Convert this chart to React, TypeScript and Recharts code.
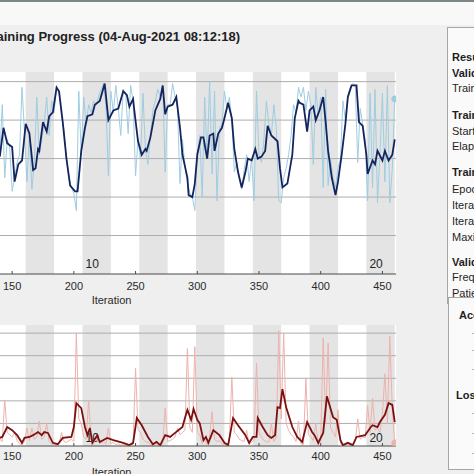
import React from "react";
import {
  LineChart,
  Line,
  XAxis,
  YAxis,
  CartesianGrid,
  ReferenceArea,
  ReferenceLine,
} from "recharts";

// iteration grid shared by both panels
const ITER_START = 140;
const ITER_STEP = 2;
const MAX_ITER = 461;
const ITERS_PER_EPOCH = 23;
const SHADED_EPOCHS = [2, 4, 6, 8, 10, 12, 14, 16, 18, 20];
const LABELED_EPOCHS = [10, 20];
const ITER_TICKS = [0, 50, 100, 150, 200, 250, 300, 350, 400, 450];
const ACC_TICKS = [0, 20, 40, 60, 80, 100];
const LOSS_TICKS = [0, 0.5, 1, 1.5, 2, 2.5];

// per-iteration accuracy (%), every 2nd iteration from 140
const ACC_RAW = [
  62, 88, 50, 70, 66, 43, 50, 58, 62, 97,
  74, 48, 72, 44, 58, 92, 62, 70, 78, 92,
  72, 90, 84, 97, 94, 82, 75, 60, 50, 45,
  42, 33, 95, 62, 92, 78, 88, 84, 90, 88,
  92, 96, 99, 88, 51, 95, 84, 98, 86, 72,
  96, 94, 73, 98, 90, 51, 70, 60, 94, 64,
  57, 72, 85, 90, 96, 92, 98, 53, 88, 88,
  99, 92, 86, 47, 70, 56, 48, 42, 40, 33,
  62, 72, 40, 92, 60, 100, 52, 95, 38, 76,
  78, 95, 86, 92, 80, 53, 58, 50, 44, 54,
  62, 48, 60, 38, 95, 62, 58, 70, 90, 78,
  72, 88, 76, 38, 37, 50, 55, 62, 72, 88,
  84, 97, 92, 97, 85, 95, 88, 57, 97, 82,
  92, 45, 96, 46, 60, 50, 45, 55, 60, 90,
  80, 93, 97, 99, 98, 58, 86, 78, 70, 38,
  94, 45, 96, 37, 62, 94, 48, 98, 37, 55,
  91,
];

// smoothed accuracy [iteration, %]
const ACC_SMOOTH: [number, number][] = [
  [140, 61], [143, 76], [146, 68], [150, 66], [152, 48], [155, 57], [158, 59],
  [161, 78], [164, 73], [167, 54], [169, 55], [171, 65], [172, 64], [175, 79],
  [178, 74], [180, 82], [183, 84], [186, 97], [188, 95], [191, 79], [194, 60],
  [197, 46], [201, 43], [203, 43], [206, 64], [209, 76], [211, 82], [215, 83],
  [217, 88], [221, 90], [225, 99], [228, 80], [232, 85], [236, 86], [240, 95],
  [243, 93], [245, 87], [248, 91], [249, 85], [252, 69], [255, 62], [258, 65],
  [259, 64], [262, 71], [266, 85], [270, 91], [272, 98], [274, 83], [276, 87],
  [280, 88], [283, 92], [286, 76], [288, 62], [292, 50], [293, 41], [296, 40],
  [298, 47], [300, 62], [303, 71], [305, 71], [308, 60], [310, 72], [313, 73],
  [314, 64], [317, 73], [320, 76], [322, 81], [325, 89], [328, 81], [330, 65],
  [333, 53], [336, 45], [339, 53], [341, 60], [344, 59], [347, 65], [349, 60],
  [352, 61], [355, 64], [357, 77], [360, 72], [365, 69], [367, 55], [369, 45],
  [373, 47], [377, 62], [379, 81], [382, 90], [383, 89], [386, 88], [389, 74],
  [391, 85], [394, 87], [396, 80], [399, 85], [402, 92], [404, 79], [406, 64],
  [409, 50], [412, 41], [414, 48], [417, 62], [420, 78], [422, 92], [425, 98],
  [429, 98], [431, 79], [434, 77], [437, 62], [438, 52], [442, 59], [444, 57],
  [446, 64], [450, 59], [452, 64], [455, 59], [458, 62], [460, 70],
];

// per-iteration loss, every 2nd iteration from 140
const LOSS_RAW = [
  0.15, 0.1, 1.02, 0.3, 0.25, 0.2, 0.3, 0.12, 0.05, 0.03,
  0.1, 0.4, 0.12, 0.4, 0.15, 0.2, 0.55, 0.15, 0.2, 0.5,
  0.1, 0.05, 0.03, 0.02, 0.05, 0.3, 0.1, 0.08, 0.12, 0.15,
  0.1, 2.5, 0.6, 0.5, 0.2, 0.15, 1.02, 0.1, 0.05, 0.2,
  0.08, 0.06, 0.1, 0.05, 0.4, 0.05, 0.08, 0.03, 0.05, 0.02,
  0.03, 0.02, 0.01, 0.05, 0.03, 1.72, 0.35, 0.3, 0.15, 0.1,
  0.08, 0.03, 0.02, 0.06, 0.03, 0.02, 0.05, 0.84, 0.1, 0.12,
  0.15, 0.2, 0.4, 0.25, 0.3, 0.35, 2.16, 0.4, 0.3, 2.2,
  0.3, 0.25, 0.05, 0.15, 0.03, 0.2, 0.76, 0.15, 0.1, 0.12,
  0.05, 0.03, 0.02, 0.1, 1.53, 0.3, 0.25, 0.15, 0.12, 0.1,
  0.35, 0.03, 0.08, 0.12, 1.83, 0.3, 0.2, 0.12, 0.1, 0.08,
  0.5, 0.1, 0.2, 2.55, 0.6, 2.5, 0.5, 0.35, 0.25, 0.2,
  0.1, 0.55, 0.05, 0.03, 1.48, 0.25, 0.2, 0.12, 0.5, 0.03,
  0.1, 2.39, 0.5, 2.28, 0.4, 0.3, 0.2, 0.8, 0.05, 0.02,
  0.03, 0.05, 0.02, 0.01, 0.1, 0.6, 0.15, 0.2, 0.18, 0.9,
  0.3, 1.06, 0.35, 0.4, 0.3, 0.7, 1.6, 0.5, 2.43, 0.8,
  0.07,
];

// smoothed loss [iteration, loss]
const LOSS_SMOOTH: [number, number][] = [
  [140, 0.18], [142, 0.2], [146, 0.42], [150, 0.35], [154, 0.24], [158, 0.07],
  [160, 0.18], [164, 0.2], [167, 0.24], [171, 0.31], [174, 0.24], [176, 0.31],
  [179, 0.29], [183, 0.07], [187, 0.04], [191, 0.18], [198, 0.2], [200, 0.42],
  [202, 0.95], [206, 0.84], [209, 0.42], [211, 0.24], [213, 0.4], [215, 0.07],
  [219, 0.24], [221, 0.09], [227, 0.18], [232, 0.13], [240, 0.07], [245, 0.02],
  [248, 0.07], [251, 0.62], [255, 0.46], [260, 0.2], [264, 0.04], [267, 0.09],
  [270, 0.02], [274, 0.24], [278, 0.2], [282, 0.29], [288, 0.42], [290, 0.62],
  [292, 0.8], [295, 0.58], [297, 0.82], [300, 0.58], [302, 0.5], [305, 0.13],
  [307, 0.2], [309, 0.07], [313, 0.35], [318, 0.24], [322, 0.07], [325, 0.02],
  [329, 0.62], [333, 0.46], [339, 0.24], [342, 0.07], [345, 0.2], [348, 0.2],
  [349, 0.62], [353, 0.42], [357, 0.24], [360, 0.18], [363, 0.24], [365, 0.86],
  [367, 0.84], [369, 1.26], [372, 0.86], [377, 0.42], [381, 0.2], [385, 0.09],
  [389, 0.53], [393, 0.31], [395, 0.24], [398, 0.07], [402, 0.29], [405, 1.1],
  [410, 0.64], [413, 0.58], [416, 0.13], [418, 0.02], [422, 0.07], [426, 0.02],
  [429, 0.2], [436, 0.24], [440, 0.4], [442, 0.46], [446, 0.42], [448, 0.53],
  [452, 0.69], [455, 0.95], [458, 0.91], [460, 0.53],
];

const FONT = '"Liberation Sans", Arial, Helvetica, sans-serif';

// chart frame: the left part (y axis, early iterations) runs off the page
const CHART_LEFT = -223;
const CHART_WIDTH = 697;
const Y_AXIS_WIDTH = 50;
const MARGIN_RIGHT = 78;

const toRows = (values: number[]) =>
  values.map((v, i) => ({ iter: ITER_START + i * ITER_STEP, v }));
const pairRows = (pairs: [number, number][]) =>
  pairs.map(([iter, v]) => ({ iter, v }));

const EpochLabel = ({ viewBox, text, lift }: any) => {
  if (!viewBox) return null;
  return (
    <text
      x={viewBox.x + 3}
      y={viewBox.y + viewBox.height - lift}
      fontSize={12}
      fontFamily={FONT}
      fill="#1e1e1e"
    >
      {text}
    </text>
  );
};

type PanelProps = {
  top: number;
  height: number;
  marginTop: number;
  raw: number[];
  smooth: [number, number][];
  domain: [number, number];
  ticks: number[];
  rawColor: string;
  smoothColor: string;
  tickMargin: number;
  labelLift: number;
};

const ProgressPanel = ({
  top,
  height,
  marginTop,
  raw,
  smooth,
  domain,
  ticks,
  rawColor,
  smoothColor,
  tickMargin,
  labelLift,
}: PanelProps) => {
  const rawRows = toRows(raw);
  const smoothRows = pairRows(smooth);
  const lastRaw = [rawRows[rawRows.length - 1]];

  return (
    <div style={{ position: "absolute", left: CHART_LEFT, top }}>
      <LineChart
        width={CHART_WIDTH}
        height={height}
        margin={{ top: marginTop, right: MARGIN_RIGHT, bottom: 0, left: 0 }}
      >
        <CartesianGrid
          horizontal={false}
          vertical={false}
          fill="#ffffff"
          fillOpacity={1}
        />
        {SHADED_EPOCHS.map((epoch) => (
          <ReferenceArea
            key={epoch}
            x1={(epoch - 1) * ITERS_PER_EPOCH}
            x2={epoch * ITERS_PER_EPOCH}
            fill="#e4e4e4"
            fillOpacity={1}
            stroke="none"
            label={
              LABELED_EPOCHS.includes(epoch) ? (
                <EpochLabel text={String(epoch)} lift={labelLift} />
              ) : undefined
            }
          />
        ))}
        {ticks
          .filter((t) => t > 0)
          .map((t) => (
            <ReferenceLine key={t} y={t} stroke="#adadad" strokeWidth={1} />
          ))}
        <XAxis
          type="number"
          dataKey="iter"
          domain={[0, MAX_ITER]}
          ticks={ITER_TICKS}
          allowDataOverflow
          height={36}
          tickSize={-3}
          tickMargin={tickMargin}
          axisLine={{ stroke: "#4a4a4a" }}
          tickLine={{ stroke: "#4a4a4a" }}
          tick={{ fontSize: 11, fill: "#2a2a2a", fontFamily: FONT }}
          label={{
            value: "Iteration",
            position: "insideBottom",
            offset: 6,
            fontSize: 11,
            fill: "#2a2a2a",
            fontFamily: FONT,
          }}
        />
        <YAxis
          type="number"
          domain={domain}
          ticks={ticks}
          allowDataOverflow
          width={Y_AXIS_WIDTH}
          axisLine={{ stroke: "#4a4a4a" }}
          tick={{ fontSize: 11, fill: "#2a2a2a", fontFamily: FONT }}
        />
        <Line
          data={rawRows}
          dataKey="v"
          type="linear"
          stroke={rawColor}
          strokeWidth={1}
          dot={false}
          isAnimationActive={false}
        />
        <Line
          data={smoothRows}
          dataKey="v"
          type="linear"
          stroke={smoothColor}
          strokeWidth={1.8}
          dot={false}
          isAnimationActive={false}
        />
        <Line
          data={lastRaw}
          dataKey="v"
          stroke={rawColor}
          dot={{ r: 3, fill: rawColor, stroke: rawColor }}
          isAnimationActive={false}
        />
      </LineChart>
    </div>
  );
};

type InfoRow = { text: string; y: number; bold?: boolean };

const INFO_ROWS: InfoRow[] = [
  { text: "Results", y: 57, bold: true },
  { text: "Validation accuracy:", y: 73, bold: true },
  { text: "Training finished:", y: 88 },
  { text: "Training Time", y: 115, bold: true },
  { text: "Start time:", y: 131 },
  { text: "Elapsed time:", y: 146 },
  { text: "Training Cycle", y: 172, bold: true },
  { text: "Epoch:", y: 189 },
  { text: "Iteration:", y: 205 },
  { text: "Iterations per epoch:", y: 221 },
  { text: "Maximum iterations:", y: 237 },
  { text: "Validation", y: 262, bold: true },
  { text: "Frequency:", y: 277 },
  { text: "Patience:", y: 293 },
];

const LEGEND_ROWS: InfoRow[] = [
  { text: "Accuracy", y: 315, bold: true },
  { text: "Loss", y: 395, bold: true },
];

const LEGEND_MARKS = [332, 349, 368, 412, 432, 452];

const App = () => (
  <div
    style={{
      position: "fixed",
      left: 0,
      top: 0,
      width: 474,
      height: 474,
      overflow: "hidden",
      background: "#efefef",
      fontFamily: FONT,
    }}
  >
    <div
      style={{
        position: "absolute",
        left: 0,
        top: 0,
        width: 474,
        height: 25,
        background: "#f8f8f8",
      }}
    />
    <div
      style={{
        position: "absolute",
        left: 0,
        top: 0,
        width: 474,
        height: 2,
        background: "#7b8688",
      }}
    />
    <div
      style={{
        position: "absolute",
        right: 234,
        top: 29,
        whiteSpace: "nowrap",
        fontSize: 13,
        lineHeight: "16px",
        fontWeight: "bold",
        color: "#222",
      }}
    >
      Training Progress (04-Aug-2021 08:12:18)
    </div>

    <ProgressPanel
      top={0}
      height={310}
      marginTop={72}
      raw={ACC_RAW}
      smooth={ACC_SMOOTH}
      domain={[0, 105]}
      ticks={ACC_TICKS}
      rawColor="#9fcde0"
      smoothColor="#14245e"
      tickMargin={11}
      labelLift={6.5}
    />
    <ProgressPanel
      top={315}
      height={167}
      marginTop={10}
      raw={LOSS_RAW}
      smooth={LOSS_SMOOTH}
      domain={[0, 2.68]}
      ticks={LOSS_TICKS}
      rawColor="#eeb2ad"
      smoothColor="#7c1010"
      tickMargin={9}
      labelLift={4.5}
    />

    <div
      style={{
        position: "absolute",
        left: 447,
        top: 27,
        width: 80,
        height: 275,
        border: "1px solid #a6a6a6",
        background: "#fafafa",
      }}
    >
      {INFO_ROWS.map((row) => (
        <div
          key={row.text}
          style={{
            position: "absolute",
            left: 4,
            top: row.y - 27 - 7,
            whiteSpace: "nowrap",
            fontSize: 11,
            lineHeight: "13px",
            fontWeight: row.bold ? "bold" : "normal",
            color: "#1e1e1e",
          }}
        >
          {row.text}
        </div>
      ))}
    </div>
    <div
      style={{
        position: "absolute",
        left: 448,
        top: 297,
        width: 80,
        height: 171,
        border: "1px solid #a6a6a6",
        background: "#fafafa",
      }}
    >
      {LEGEND_ROWS.map((row) => (
        <div
          key={row.text}
          style={{
            position: "absolute",
            left: row.text === "Loss" ? 7 : 10,
            top: row.y - 297 - 7,
            whiteSpace: "nowrap",
            fontSize: 11,
            lineHeight: "13px",
            fontWeight: "bold",
            color: "#1e1e1e",
          }}
        >
          {row.text}
        </div>
      ))}
      {LEGEND_MARKS.map((y) => (
        <div
          key={y}
          style={{
            position: "absolute",
            left: 23,
            top: y - 297,
            width: 6,
            height: 1,
            background: "#b5b5b5",
          }}
        />
      ))}
    </div>
  </div>
);

export default App;
